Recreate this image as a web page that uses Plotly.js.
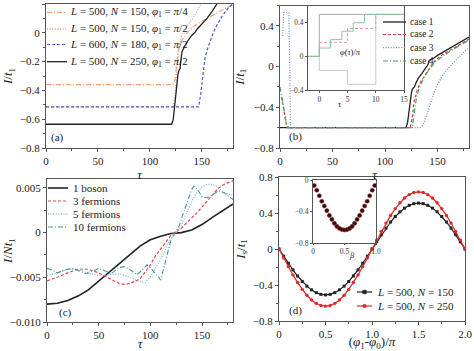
<!DOCTYPE html>
<html><head><meta charset="utf-8">
<script src="https://cdn.plot.ly/plotly-3.0.1.min.js"></script>
<style>body{margin:0;padding:0;background:#fff}#plot{width:474px;height:351px}</style>
</head><body><div id="plot"></div>
<script>
// ---------- Panel (a) ----------
const aTau1 = [0,122,124,126,128,130,133,136,140,145,150,155,160,165,170,175,180];
const aI1   = [-0.36,-0.36,-0.33,-0.2,-0.1,-0.06,-0.03,0.0,0.03,0.06,0.08,0.1,0.12,0.14,0.16,0.18,0.2];
const aTau2 = [0,122,124,126,128,130,133,136,140,143,146,149,152];
const aI2   = [-0.515,-0.515,-0.45,-0.25,-0.1,-0.03,0.02,0.05,0.09,0.12,0.16,0.2,0.24];
const aTau3 = [0,147,149,151,153,155,158,161,165,170,175,180];
const aI3   = [-0.515,-0.515,-0.42,-0.28,-0.18,-0.12,-0.06,0.0,0.06,0.12,0.17,0.2];
const aTau4 = [0,121,122.5,124,125,126,127,128,129,130,131,133,135,137,140,143,146,150,155,160,164,168];
const aI4   = [-0.635,-0.635,-0.6,-0.5,-0.42,-0.33,-0.29,-0.26,-0.25,-0.18,-0.13,-0.1,-0.07,-0.05,-0.02,0.0,0.03,0.06,0.1,0.15,0.2,0.24];
const aLabels = ["<i>L</i> = 500, <i>N</i> = 150, <i>φ</i><sub>1</sub> = <i>π</i>/4",
                 "<i>L</i> = 500, <i>N</i> = 150, <i>φ</i><sub>1</sub> = <i>π</i>/2",
                 "<i>L</i> = 600, <i>N</i> = 180, <i>φ</i><sub>1</sub> = <i>π</i>/2",
                 "<i>L</i> = 500, <i>N</i> = 250, <i>φ</i><sub>1</sub> = <i>π</i>/2"];

// ---------- Panel (b) ----------
const bTau1 = [0,120,121.5,123,124,125,126,128,130,132,135,138,141,142,146,150,155,160,165,170,175,180];
const bI1   = [-0.6,-0.6,-0.55,-0.4,-0.3,-0.27,-0.22,-0.2,-0.15,-0.11,-0.07,-0.03,0.02,0.06,0.08,0.11,0.14,0.17,0.2,0.23,0.26,0.29];
const bTau2 = [1.5,3,5,6.5,124,126,127.5,129,131,134,137,140,143,146,150,155,160,165,170,175,180];
const bI2   = [-0.3,-0.4,-0.52,-0.6,-0.6,-0.5,-0.35,-0.28,-0.22,-0.15,-0.1,-0.05,0.0,0.04,0.08,0.12,0.15,0.18,0.21,0.24,0.27];
const bTau3 = [2.5,3,3.5,8.5,9,10,133,136,139,142,145,148,152,156,160,165,170,175,180];
const bI3   = [0.3,0.45,0.53,0.53,0.2,-0.6,-0.6,-0.58,-0.5,-0.4,-0.3,-0.22,-0.14,-0.07,-0.02,0.04,0.09,0.14,0.19];
const bTau4 = [0,2,4,6,8,126,128,130,133,136,140,144,148,152,156,160,165,170,175,180];
const bI4   = [-0.2,-0.33,-0.45,-0.55,-0.6,-0.6,-0.45,-0.3,-0.2,-0.13,-0.06,0.0,0.05,0.08,0.11,0.14,0.17,0.2,0.23,0.26];
const bLabels = ["case 1","case 2","case 3","case 4"];
// inset of (b): phi(tau)/pi
const insTau1 = [-2,0,0,15];
const insPhi1 = [0,0,0.5,0.5];
const insTau2 = [-2,0,0,5,5,10,10,15];
const insPhi2 = [0,0,0.167,0.167,0.333,0.333,0.5,0.5];
const insTau3 = [-2,0,0,5,5,10,10,15];
const insPhi3 = [0,0,-0.167,-0.167,-0.333,-0.333,0.5,0.5];
const insTau4 = [-2,0,0,2,2,4,4,6,6,8,8,15];
const insPhi4 = [0,0,0.1,0.1,0.2,0.2,0.3,0.3,0.4,0.4,0.5,0.5];

// ---------- Panel (c) ----------
const cTau1 = [0,10,20,30,40,50,60,70,80,90,100,110,120,130,140,150,160,170,180];
const cI1   = [-0.0080,-0.0079,-0.0076,-0.0071,-0.0064,-0.0054,-0.0044,-0.0034,-0.0024,-0.0015,-0.0008,-0.0004,-0.0001,0.0000,0.0003,0.0009,0.0017,0.0025,0.0032];
const cTau2 = [0,10,20,30,40,50,60,70,75,80,90,100,105,110,115,120,125,130,137,145,154,160,166,173,180];
const cI2   = [-0.0054,-0.0050,-0.0045,-0.0041,-0.0041,-0.0045,-0.0051,-0.0057,-0.0058,-0.0057,-0.0052,-0.0036,-0.0026,-0.0018,-0.0010,-0.0003,0.0001,0.0005,0.0013,0.0022,0.0034,0.0042,0.0050,0.0055,0.0058];
const cTau3 = [0,10,20,30,40,50,60,70,80,90,95,100,105,110,115,120,125,130,135,140,145,150,155,160,165,170,175,180];
const cI3   = [-0.0048,-0.0045,-0.0041,-0.0041,-0.0045,-0.0048,-0.0047,-0.0046,-0.0050,-0.0055,-0.0056,-0.0050,-0.0040,-0.0030,-0.0018,-0.0006,0.0000,0.0008,0.0022,0.0035,0.0045,0.0051,0.0054,0.0054,0.0051,0.0046,0.0043,0.0042];
const cTau4 = [0,5,10,15,20,25,30,38,45,50,55,62,70,75,80,87,92,97,103,110,113,117,120,124,128,132,136,140,142,146,150,155,160,166,172,180];
const cI4   = [-0.0040,-0.0042,-0.0045,-0.0043,-0.0041,-0.0040,-0.0042,-0.0046,-0.0043,-0.0040,-0.0042,-0.0046,-0.0039,-0.0038,-0.0041,-0.0047,-0.0042,-0.0036,-0.0043,-0.0053,-0.0040,-0.0022,-0.0008,0.0000,0.0008,0.0022,0.0036,0.0048,0.0052,0.0048,0.0040,0.0039,0.0042,0.0047,0.0044,0.0037];
const cLabels = ["1 boson","3 fermions","5 fermions","10 fermions"];

// ---------- Panel (d) ----------
const dPhi = [0,0.05,0.1,0.15,0.2,0.25,0.3,0.35,0.4,0.45,0.5,0.55,0.6,0.65,0.7,0.75,0.8,0.85,0.9,0.95,1.0,
              1.05,1.1,1.15,1.2,1.25,1.3,1.35,1.4,1.45,1.5,1.55,1.6,1.65,1.7,1.75,1.8,1.85,1.9,1.95,2.0];
const dI150 = [0,-0.080,-0.158,-0.232,-0.300,-0.361,-0.413,-0.454,-0.485,-0.504,-0.510,-0.504,-0.485,-0.454,-0.413,-0.361,-0.300,-0.232,-0.158,-0.080,0,
               0.080,0.158,0.232,0.300,0.361,0.413,0.454,0.485,0.504,0.510,0.504,0.485,0.454,0.413,0.361,0.300,0.232,0.158,0.080,0];
const dI250 = [0,-0.099,-0.196,-0.288,-0.373,-0.449,-0.514,-0.566,-0.604,-0.627,-0.635,-0.627,-0.604,-0.566,-0.514,-0.449,-0.373,-0.288,-0.196,-0.099,0,
               0.099,0.196,0.288,0.373,0.449,0.514,0.566,0.604,0.627,0.635,0.627,0.604,0.566,0.514,0.449,0.373,0.288,0.196,0.099,0];
const dLabels = ["<i>L</i> = 500, <i>N</i> = 150","<i>L</i> = 500, <i>N</i> = 250"];
// inset of (d)
const beta = [0.02,0.06,0.10,0.14,0.18,0.22,0.26,0.30,0.34,0.38,0.42,0.46,0.50,0.54,0.58,0.62,0.66,0.70,0.74,0.78,0.82,0.86,0.90,0.94,0.98];
const betaI = [-0.07,-0.13,-0.2,-0.27,-0.33,-0.39,-0.45,-0.5,-0.55,-0.59,-0.615,-0.63,-0.635,-0.63,-0.615,-0.59,-0.55,-0.5,-0.45,-0.39,-0.33,-0.27,-0.2,-0.13,-0.07];

// ---------- styles ----------
const W = 474, H = 351;
const SERIF = "'Liberation Serif', 'DejaVu Serif', serif";
const px = v => v / W, py = v => 1 - v / H;
const DASH = '3px,2px', DOT = '1px,1.6px', DASHDOT = '5px,2px,1px,2px';

const traces = [];
function line(x, y, xa, ya, color, dash, width, extra) {
  traces.push(Object.assign({x, y, xaxis: xa, yaxis: ya, type: 'scatter', mode: 'lines',
    line: {color, dash, width}, showlegend: false, hoverinfo: 'skip'}, extra || {}));
}
const aStyles = [['#f3a36b',DASHDOT,1.2],['#ee9a8a',DOT,1.3],['#4a5cc0',DASH,1.2],['#222','solid',1.3]];
line(aTau1,aI1,'x','y',...aStyles[0]);
line(aTau2,aI2,'x','y',...aStyles[1]);
line(aTau3,aI3,'x','y',...aStyles[2]);
line(aTau4,aI4,'x','y',...aStyles[3]);

const bStyles = [['#222','solid',1.3],['#c8484a',DASH,1.2],['#7890e0',DOT,1.3],['#4aa060',DASHDOT,1.2]];
line(bTau1,bI1,'x2','y2',...bStyles[0]);
line(bTau2,bI2,'x2','y2',...bStyles[1]);
line(bTau3,bI3,'x2','y2',...bStyles[2]);
line(bTau4,bI4,'x2','y2',...bStyles[3]);
line(insTau3,insPhi3,'x5','y5','#c8cad4','solid',1);
line(insTau1,insPhi1,'x5','y5','#a8a8a8','solid',1);
line(insTau2,insPhi2,'x5','y5','#e89a9a',DASH,1);
line(insTau4,insPhi4,'x5','y5','#8cc49a','solid',1);

const cStyles = [['#222','solid',1.6],['#e04848',DASH,1.2],['#88b4e4',DOT,1.3],['#3f9a98',DASHDOT,1.1]];
line(cTau1,cI1,'x3','y3',...cStyles[0]);
line(cTau2,cI2,'x3','y3',...cStyles[1]);
line(cTau3,cI3,'x3','y3',...cStyles[2]);
line(cTau4,cI4,'x3','y3',...cStyles[3]);

line(dPhi,dI150,'x4','y4','#222','solid',1.2,{mode:'lines+markers',marker:{symbol:'square',size:3,color:'#222'}});
line(dPhi,dI250,'x4','y4','#e02828','solid',1.2,{mode:'lines+markers',marker:{symbol:'circle',size:3.4,color:'#e02828'}});
traces.push({x: beta, y: betaI, xaxis:'x6', yaxis:'y6', type:'scatter', mode:'markers',
  marker:{symbol:'circle', size:4.2, color:'#2a1010', line:{color:'#b02020', width:0.5}}, showlegend:false, hoverinfo:'skip'});

function ax(domain, range, o) {
  return Object.assign({domain, range, showline:true, mirror:true, linecolor:'#555', linewidth:1,
    ticks:'outside', ticklen:3, tickcolor:'#555', zeroline:false, showgrid:false, fixedrange:true,
    tickfont:{family:SERIF, size:11, color:'#222'}}, o);
}
const tfont = {family:SERIF, size:13, color:'#222'};
const ifont = {family:SERIF, size:7.5, color:'#333'};
const layout = {
  width: W, height: H, margin:{l:0,r:0,t:0,b:0}, paper_bgcolor:'#fff', plot_bgcolor:'rgba(0,0,0,0)',
  showlegend:false, font:{family:SERIF},
  xaxis: ax([px(46),px(233)],[0,180],{anchor:'y', dtick:50, minor:{dtick:25,ticks:'outside',ticklen:2,tickcolor:'#555'},
    title:{text:'<i>τ</i>', font:tfont, standoff:2}}),
  yaxis: ax([py(148),py(4)],[-0.8,0.2],{anchor:'x', dtick:0.2, minor:{dtick:0.1,ticks:'outside',ticklen:2,tickcolor:'#555'},
    title:{text:'<i>I</i>/<i>t</i><sub>1</sub>', font:tfont, standoff:6}}),
  xaxis2: ax([px(280),px(469)],[0,180],{anchor:'y2', dtick:50, minor:{dtick:25,ticks:'outside',ticklen:2,tickcolor:'#555'},
    title:{text:'<i>τ</i>', font:tfont, standoff:2}}),
  yaxis2: ax([py(148),py(5.5)],[-0.8,0.6],{anchor:'x2', tickvals:[-0.8,-0.4,0,0.4], minor:{dtick:0.2,ticks:'outside',ticklen:2,tickcolor:'#555'},
    title:{text:'<i>I</i>/<i>t</i><sub>1</sub>', font:tfont, standoff:6}}),
  xaxis3: ax([px(47),px(233)],[0,180],{anchor:'y3', dtick:50, minor:{dtick:25,ticks:'outside',ticklen:2,tickcolor:'#555'},
    title:{text:'<i>τ</i>', font:tfont, standoff:2}}),
  yaxis3: ax([py(322),py(179)],[-0.010,0.006],{anchor:'x3', tickvals:[-0.01,-0.005,0,0.005], ticktext:['−0.010','−0.005','0','0.005'],
    minor:{dtick:0.0025,ticks:'outside',ticklen:2,tickcolor:'#555'},
    title:{text:'<i>I</i>/<i>Nt</i><sub>1</sub>', font:tfont, standoff:4}}),
  xaxis4: ax([px(279),px(465)],[0,2],{anchor:'y4', tickvals:[0,0.5,1,1.5,2], ticktext:['0','0.5','1.0','1.5','2.0'],
    minor:{dtick:0.25,ticks:'outside',ticklen:2,tickcolor:'#555'},
    title:{text:'(<i>φ</i><sub>1</sub>-<i>φ</i><sub>0</sub>)/<i>π</i>', font:tfont, standoff:6}}),
  yaxis4: ax([py(321),py(177)],[-0.8,0.8],{anchor:'x4', dtick:0.4, minor:{dtick:0.2,ticks:'outside',ticklen:2,tickcolor:'#555'},
    title:{text:'<i>I</i><sub>s</sub>/<i>t</i><sub>1</sub>', font:tfont, standoff:4}}),
  xaxis5: ax([px(308),px(404)],[-2,15],{anchor:'y5', tickvals:[0,5,10,15], ticklen:2, tickfont:ifont}),
  yaxis5: ax([py(90),py(6)],[-0.4,0.6],{anchor:'x5', tickvals:[-0.4,0,0.4], ticklen:2, tickfont:ifont}),
  xaxis6: ax([px(313),px(376)],[0,1],{anchor:'y6', tickvals:[0,0.5,1], ticktext:['0','0.5','1.0'], ticklen:1, tickfont:ifont}),
  yaxis6: ax([py(243),py(180)],[-0.8,0],{anchor:'x6', tickvals:[-0.8,-0.4,0], ticklen:2, tickfont:ifont}),
  shapes: [], annotations: []
};

function legendBlock(labels, styles, x0, x1, ys, tx, fsize, markers) {
  labels.forEach((lab, i) => {
    const s = styles[i];
    layout.shapes.push({type:'line', xref:'paper', yref:'paper', x0:px(x0), x1:px(x1), y0:py(ys[i]), y1:py(ys[i]),
      line:{color:s[0], dash:s[1], width:s[2]}});
    if (markers) {
      const m = markers[i], cx = (x0 + x1) / 2, r = 1.8;
      layout.shapes.push({type:m, xref:'paper', yref:'paper', x0:px(cx-r), x1:px(cx+r), y0:py(ys[i]+r), y1:py(ys[i]-r),
        fillcolor:s[0], line:{color:s[0], width:0.5}});
    }
    layout.annotations.push({xref:'paper', yref:'paper', x:px(tx), y:py(ys[i]), xanchor:'left', yanchor:'middle',
      text:lab, showarrow:false, font:{family:SERIF, size:fsize, color:'#222'}});
  });
}
legendBlock(aLabels, aStyles, 47, 67, [12.3,29,44.5,61.7], 68, 11);
legendBlock(bLabels, bStyles, 383, 406, [22,34.5,47.7,61], 408, 9.5);
legendBlock(cLabels, cStyles, 48, 68, [188,201,214,227], 71, 11);
legendBlock(dLabels, [['#222','solid',1.2],['#e02828','solid',1.2]], 357, 372, [292,306], 375, 11, ['rect','circle']);

function note(text, x, y, size, anchor) {
  layout.annotations.push({xref:'paper', yref:'paper', x:px(x), y:py(y), xanchor:anchor||'left', yanchor:'middle',
    text, showarrow:false, font:{family:SERIF, size, color:'#222'}});
}
note('(a)', 49, 137, 11);
note('(b)', 287, 136, 11);
note('(c)', 57, 312, 11);
note('(d)', 287, 310, 11);
note('<i>φ</i>(<i>τ</i>)/<i>π</i>', 350, 52, 8.5, 'center');
note('<i>τ</i>', 340, 104, 8.5, 'center');
note('<i>β</i>', 352, 255, 8.5, 'center');

Plotly.newPlot('plot', traces, layout, {staticPlot:true, displayModeBar:false});
</script></body></html>
